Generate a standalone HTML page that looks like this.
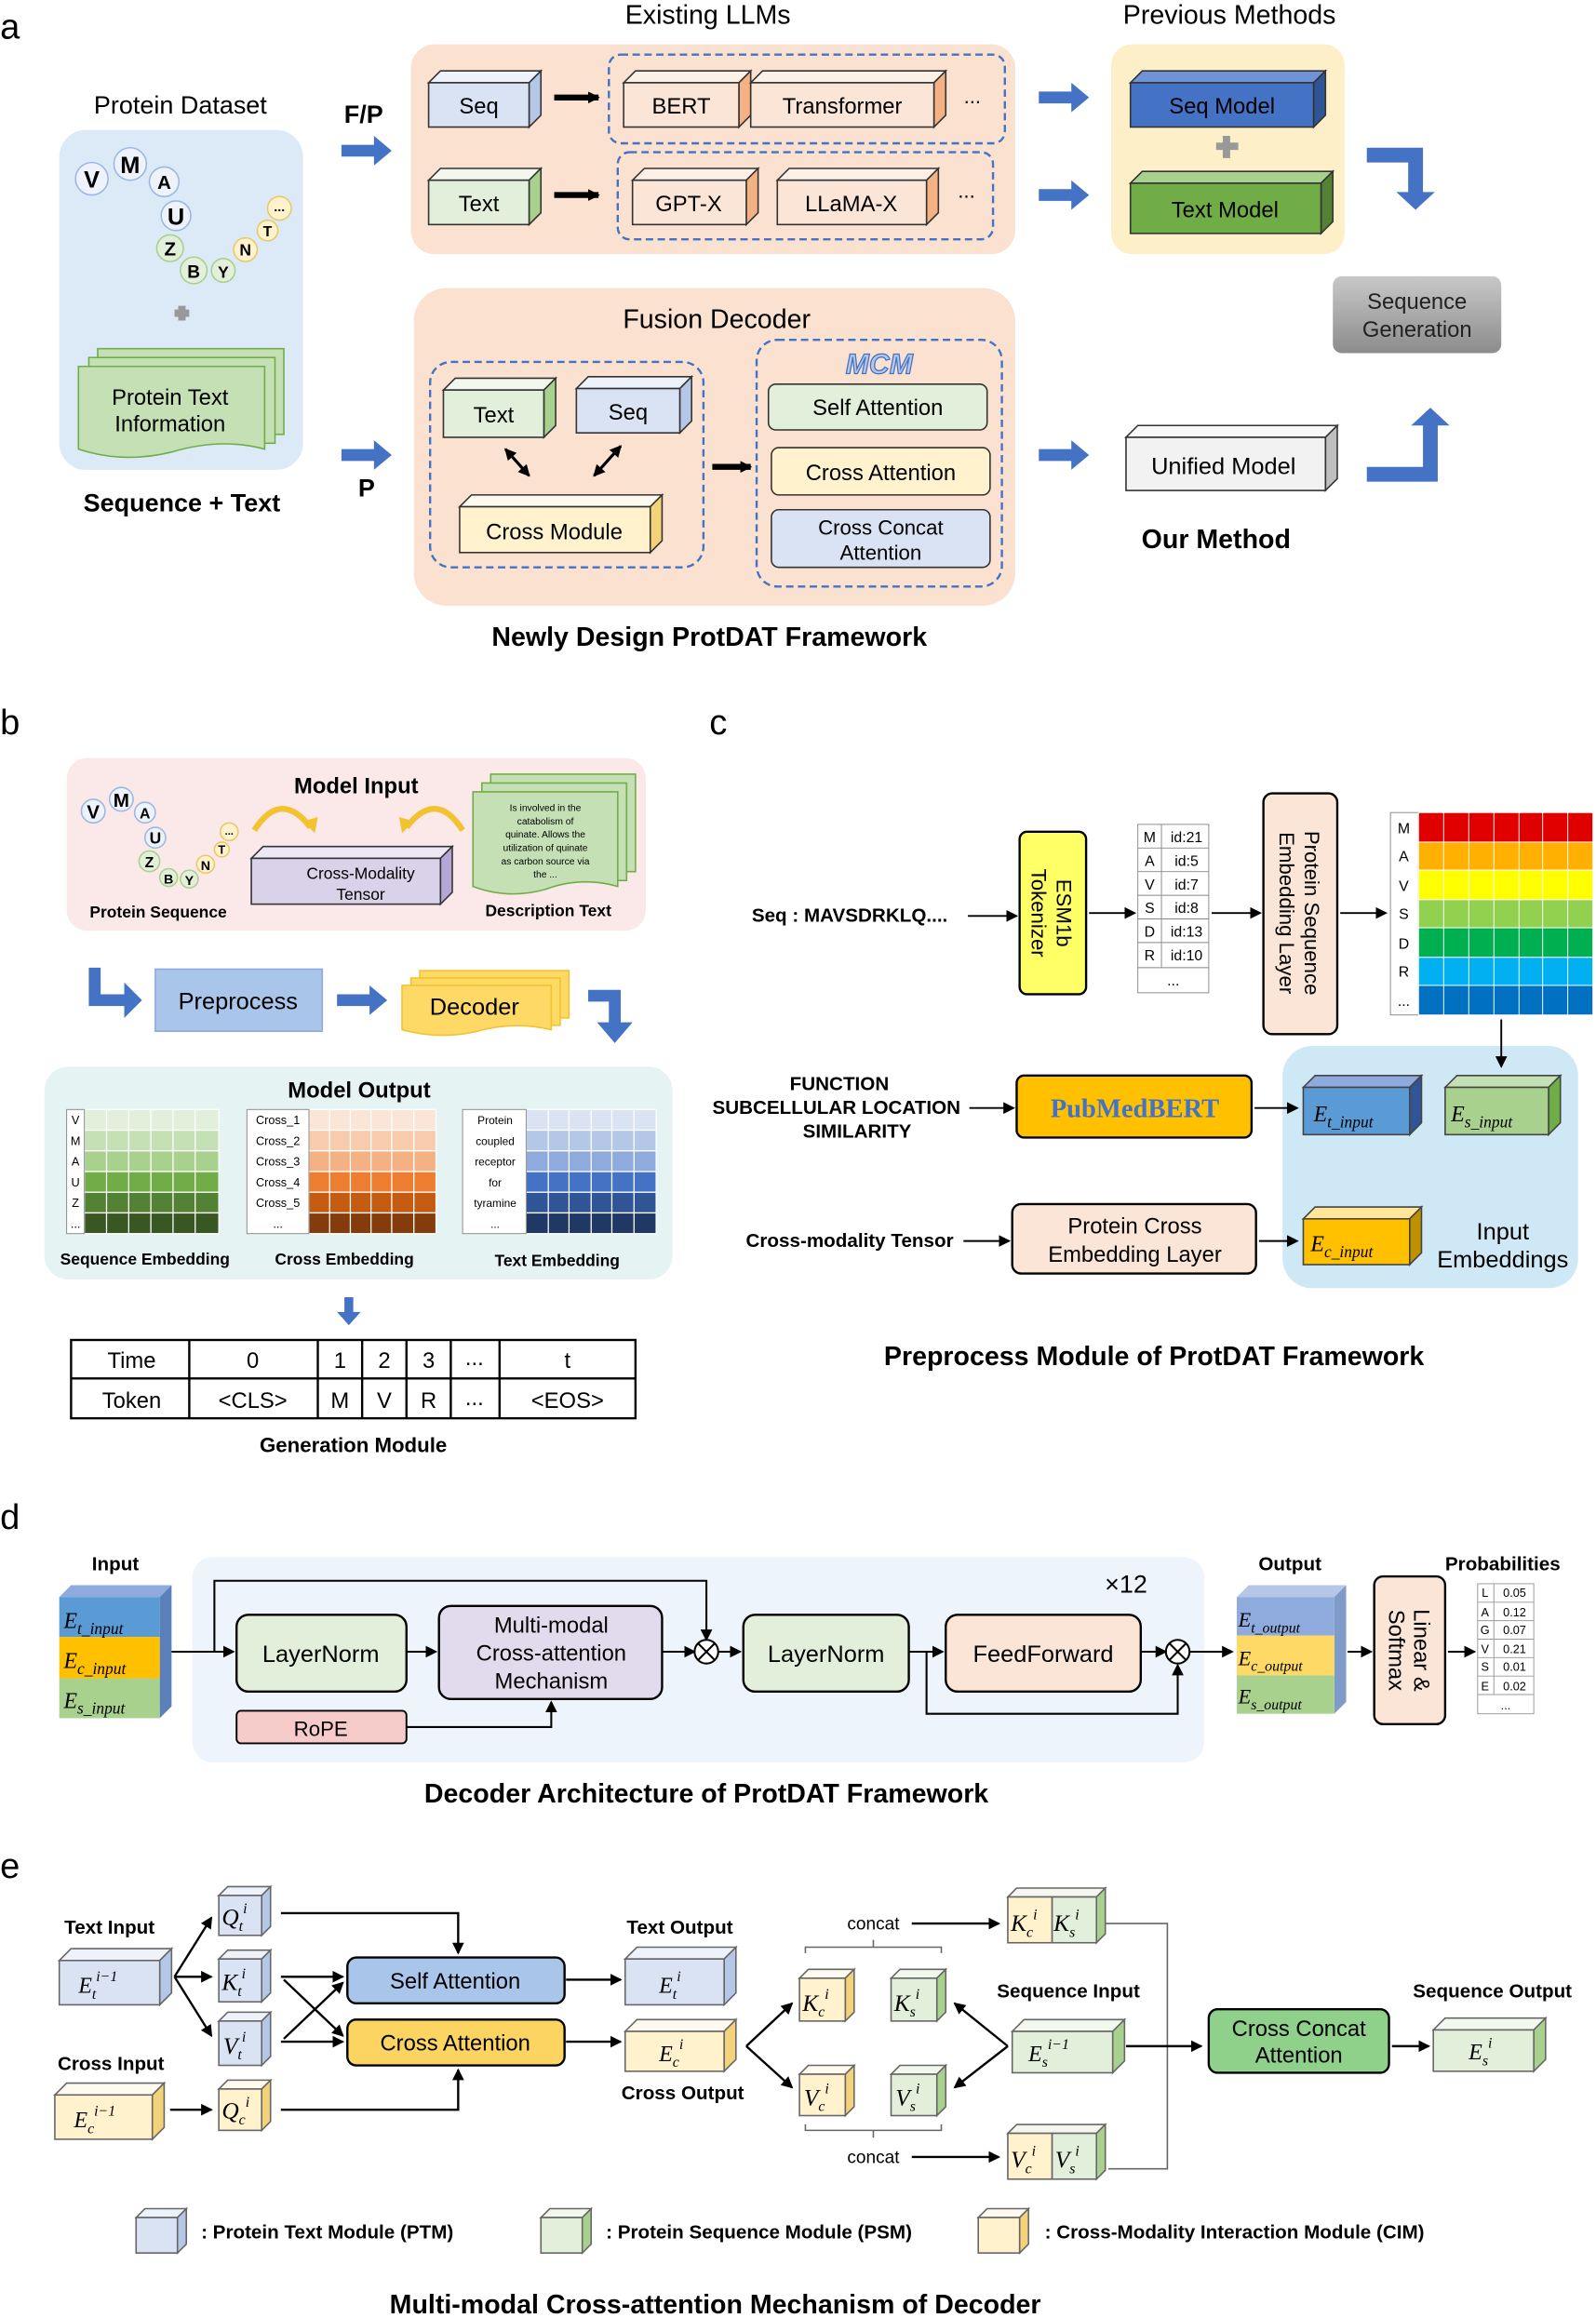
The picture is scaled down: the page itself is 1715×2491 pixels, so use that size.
<!DOCTYPE html>
<html><head><meta charset="utf-8">
<style>
html,body{margin:0;padding:0;background:#fff;}
svg{display:block;font-family:"Liberation Sans",sans-serif;}
.t{font-family:"Liberation Sans",sans-serif;}
.m{font-family:"Liberation Serif",serif;font-style:italic;}
</style></head><body>
<svg width="1715" height="2491" viewBox="0 0 1080 1569" xmlns="http://www.w3.org/2000/svg">
<defs>
<marker id="ab" markerWidth="8" markerHeight="8" refX="7" refY="4" orient="auto" markerUnits="userSpaceOnUse"><path d="M0,0 L8,4 L0,8 z" fill="#000"/></marker>
<marker id="ab2" markerWidth="8" markerHeight="8" refX="1" refY="4" orient="auto" markerUnits="userSpaceOnUse"><path d="M8,0 L0,4 L8,8 z" fill="#000"/></marker>
<linearGradient id="gg" x1="0" y1="0" x2="0" y2="1"><stop offset="0" stop-color="#c8c8c8"/><stop offset="1" stop-color="#8c8c8c"/></linearGradient>
</defs>

<!-- ============ A ============ -->
<text x="0" y="26" font-size="24">a</text>
<text x="479" y="16" font-size="18" text-anchor="middle">Existing LLMs</text>
<text x="832" y="16" font-size="18" text-anchor="middle">Previous Methods</text>

<text x="122" y="77" font-size="17" text-anchor="middle">Protein Dataset</text>
<rect x="40" y="88" width="165" height="230" rx="18" fill="#dce9f7"/>
<g font-size="16" text-anchor="middle" font-weight="bold">
<circle cx="62" cy="121" r="11" fill="#eef3fb" stroke="#9db8e0"/><text x="62" y="127">V</text>
<circle cx="88" cy="111" r="11" fill="#eef3fb" stroke="#9db8e0"/><text x="88" y="117">M</text>
<circle cx="111" cy="123" r="10" fill="#eef3fb" stroke="#9db8e0"/><text x="111" y="128" font-size="13">A</text>
<circle cx="119" cy="146" r="10" fill="#eef3fb" stroke="#9db8e0"/><text x="119" y="152">U</text>
<circle cx="115" cy="168" r="9" fill="#e2efda" stroke="#a9d18e"/><text x="115" y="173" font-size="13">Z</text>
<circle cx="131" cy="183" r="9" fill="#e2efda" stroke="#a9d18e"/><text x="131" y="188" font-size="12">B</text>
<circle cx="151" cy="183" r="8" fill="#e2efda" stroke="#a9d18e"/><text x="151" y="188" font-size="11">Y</text>
<circle cx="166" cy="169" r="8" fill="#fff2cc" stroke="#e8c96a"/><text x="166" y="173" font-size="11">N</text>
<circle cx="181" cy="156" r="7" fill="#fff2cc" stroke="#e8c96a"/><text x="181" y="160" font-size="10">T</text>
<circle cx="189" cy="141" r="8" fill="#fff2cc" stroke="#e8c96a"/><text x="189" y="143" font-size="9">...</text>
</g>
<path d="M118,212 h10 M123,207 v10" stroke="#999" stroke-width="5"/>
<rect x="66" y="236" width="126" height="58" fill="#c5e0b4" stroke="#70ad47"/>
<rect x="60" y="242" width="126" height="58" fill="#c5e0b4" stroke="#70ad47"/>
<path d="M53,248 h126 v56 q-30,-8 -63,2 q-33,8 -63,-2 z" fill="#c5e0b4" stroke="#70ad47"/>
<text x="115" y="274" font-size="15" text-anchor="middle">Protein Text</text>
<text x="115" y="292" font-size="15" text-anchor="middle">Information</text>
<text x="123" y="346" font-size="17" text-anchor="middle" font-weight="bold">Sequence + Text</text>

<text x="246" y="83" font-size="17" text-anchor="middle" font-weight="bold">F/P</text>
<path d="M231,98 h22 v-6 l12,10 l-12,10 v-6 h-22 z" fill="#4472c4"/>
<path d="M231,304 h22 v-6 l12,10 l-12,10 v-6 h-22 z" fill="#4472c4"/>
<text x="248" y="336" font-size="17" text-anchor="middle" font-weight="bold">P</text>

<rect x="278" y="30" width="409" height="142" rx="16" fill="#fbe1cf"/>
<!-- Seq -->
<polygon points="290,56 298,48 366,48 358,56" fill="#eef3fb" stroke="#333"/>
<polygon points="358,56 366,48 366,78 358,86" fill="#b4c7e7" stroke="#333"/>
<rect x="290" y="56" width="68" height="30" fill="#dae3f3" stroke="#333"/>
<text x="324" y="77" font-size="15" text-anchor="middle">Seq</text>
<line x1="375" y1="66" x2="405" y2="66" stroke="#000" stroke-width="4" marker-end="url(#ab)"/>
<rect x="412" y="37" width="268" height="60" rx="8" fill="none" stroke="#4472c4" stroke-dasharray="5,3" stroke-width="1.5"/>
<polygon points="422,56 430,48 508,48 500,56" fill="#fdf0e6" stroke="#333"/>
<polygon points="500,56 508,48 508,78 500,86" fill="#f4b183" stroke="#333"/>
<rect x="422" y="56" width="78" height="30" fill="#fbe5d6" stroke="#333"/>
<text x="461" y="77" font-size="15" text-anchor="middle">BERT</text>
<polygon points="508,56 516,48 640,48 632,56" fill="#fdf0e6" stroke="#333"/>
<polygon points="632,56 640,48 640,78 632,86" fill="#f4b183" stroke="#333"/>
<rect x="508" y="56" width="124" height="30" fill="#fbe5d6" stroke="#333"/>
<text x="570" y="77" font-size="15" text-anchor="middle">Transformer</text>
<text x="658" y="70" font-size="14" text-anchor="middle">...</text>
<!-- Text -->
<polygon points="290,122 298,114 366,114 358,122" fill="#f2f8ee" stroke="#333"/>
<polygon points="358,122 366,114 366,144 358,152" fill="#a9d18e" stroke="#333"/>
<rect x="290" y="122" width="68" height="30" fill="#e2efda" stroke="#333"/>
<text x="324" y="143" font-size="15" text-anchor="middle">Text</text>
<line x1="375" y1="132" x2="405" y2="132" stroke="#000" stroke-width="4" marker-end="url(#ab)"/>
<rect x="418" y="103" width="254" height="59" rx="8" fill="none" stroke="#4472c4" stroke-dasharray="5,3" stroke-width="1.5"/>
<polygon points="428,122 436,114 513,114 505,122" fill="#fdf0e6" stroke="#333"/>
<polygon points="505,122 513,114 513,144 505,152" fill="#f4b183" stroke="#333"/>
<rect x="428" y="122" width="77" height="30" fill="#fbe5d6" stroke="#333"/>
<text x="466" y="143" font-size="15" text-anchor="middle">GPT-X</text>
<polygon points="526,122 534,114 635,114 627,122" fill="#fdf0e6" stroke="#333"/>
<polygon points="627,122 635,114 635,144 627,152" fill="#f4b183" stroke="#333"/>
<rect x="526" y="122" width="101" height="30" fill="#fbe5d6" stroke="#333"/>
<text x="576" y="143" font-size="15" text-anchor="middle">LLaMA-X</text>
<text x="654" y="134" font-size="14" text-anchor="middle">...</text>

<path d="M703,62 h22 v-6 l12,10 l-12,10 v-6 h-22 z" fill="#4472c4"/>
<path d="M703,128 h22 v-6 l12,10 l-12,10 v-6 h-22 z" fill="#4472c4"/>

<rect x="752" y="30" width="158" height="142" rx="14" fill="#fdf0c8"/>
<polygon points="765,56 773,48 897,48 889,56" fill="#6f93d6" stroke="#333"/>
<polygon points="889,56 897,48 897,78 889,86" fill="#2f5597" stroke="#333"/>
<rect x="765" y="56" width="124" height="30" fill="#4472c4" stroke="#333"/>
<text x="827" y="77" font-size="15" text-anchor="middle">Seq Model</text>
<path d="M823,99 h15 M830,92 v15" stroke="#999" stroke-width="5"/>
<polygon points="765,124 773,116 902,116 894,124" fill="#a9d18e" stroke="#333"/>
<polygon points="894,124 902,116 902,150 894,158" fill="#548235" stroke="#333"/>
<rect x="765" y="124" width="129" height="34" fill="#70ad47" stroke="#333"/>
<text x="829" y="147" font-size="15" text-anchor="middle">Text Model</text>

<path d="M925,100 h38 v30 h8 l-13,12 l-13,-12 h8 v-20 h-28 z" fill="#4472c4"/>
<rect x="902" y="187" width="114" height="52" rx="6" fill="url(#gg)"/>
<text x="959" y="209" font-size="15" text-anchor="middle" fill="#222">Sequence</text>
<text x="959" y="228" font-size="15" text-anchor="middle" fill="#222">Generation</text>
<path d="M925,316 h38 v-28 h-8 l13,-12 l13,12 h-8 v38 h-48 z" fill="#4472c4"/>

<rect x="280" y="195" width="407" height="215" rx="22" fill="#fbe1cf"/>
<text x="485" y="222" font-size="18" text-anchor="middle">Fusion Decoder</text>
<rect x="291" y="245" width="185" height="139" rx="14" fill="none" stroke="#4472c4" stroke-dasharray="5,3" stroke-width="1.5"/>
<polygon points="300,264 308,256 376,256 368,264" fill="#f2f8ee" stroke="#333"/>
<polygon points="368,264 376,256 376,288 368,296" fill="#a9d18e" stroke="#333"/>
<rect x="300" y="264" width="68" height="32" fill="#e2efda" stroke="#333"/>
<text x="334" y="286" font-size="15" text-anchor="middle">Text</text>
<polygon points="390,263 398,255 468,255 460,263" fill="#eef3fb" stroke="#333"/>
<polygon points="460,263 468,255 468,285 460,293" fill="#b4c7e7" stroke="#333"/>
<rect x="390" y="263" width="70" height="30" fill="#dae3f3" stroke="#333"/>
<text x="425" y="284" font-size="15" text-anchor="middle">Seq</text>
<line x1="342" y1="304" x2="358" y2="322" stroke="#000" stroke-width="2" marker-end="url(#ab)" marker-start="url(#ab2)"/>
<line x1="420" y1="302" x2="402" y2="322" stroke="#000" stroke-width="2" marker-end="url(#ab)" marker-start="url(#ab2)"/>
<polygon points="311,343 319,335 448,335 440,343" fill="#fffaf0" stroke="#333"/>
<polygon points="440,343 448,335 448,366 440,374" fill="#f4d27a" stroke="#333"/>
<rect x="311" y="343" width="129" height="31" fill="#fff2cc" stroke="#333"/>
<text x="375" y="365" font-size="15" text-anchor="middle">Cross Module</text>
<line x1="482" y1="316" x2="508" y2="316" stroke="#000" stroke-width="4" marker-end="url(#ab)"/>
<rect x="512" y="230" width="166" height="167" rx="14" fill="none" stroke="#4472c4" stroke-dasharray="5,3" stroke-width="1.5"/>
<text x="595" y="253" font-size="19" text-anchor="middle" font-weight="bold" font-style="italic" fill="#b4c7e7" stroke="#4472c4" stroke-width="0.8">MCM</text>
<rect x="520" y="260" width="148" height="31" rx="5" fill="#e2efda" stroke="#333"/>
<text x="594" y="281" font-size="15" text-anchor="middle">Self Attention</text>
<rect x="522" y="303" width="148" height="32" rx="5" fill="#fff2cc" stroke="#333"/>
<text x="596" y="325" font-size="15" text-anchor="middle">Cross Attention</text>
<rect x="522" y="345" width="148" height="39" rx="5" fill="#dae3f3" stroke="#333"/>
<text x="596" y="362" font-size="14" text-anchor="middle">Cross Concat</text>
<text x="596" y="379" font-size="14" text-anchor="middle">Attention</text>

<path d="M703,304 h22 v-6 l12,10 l-12,10 v-6 h-22 z" fill="#4472c4"/>
<polygon points="762,296 770,288 905,288 897,296" fill="#f8f8f8" stroke="#333"/>
<polygon points="897,296 905,288 905,324 897,332" fill="#bfbfbf" stroke="#333"/>
<rect x="762" y="296" width="135" height="36" fill="#f2f2f2" stroke="#333"/>
<text x="828" y="321" font-size="16" text-anchor="middle">Unified Model</text>
<text x="823" y="371" font-size="18" text-anchor="middle" font-weight="bold">Our Method</text>
<text x="480" y="437" font-size="18" text-anchor="middle" font-weight="bold">Newly Design ProtDAT Framework</text>

<!-- ============ B ============ -->
<text x="0" y="497" font-size="24">b</text>
<rect x="45" y="513" width="392" height="117" rx="14" fill="#fbe9ea"/>
<text x="241" y="537" font-size="15" text-anchor="middle" font-weight="bold">Model Input</text>
<g font-size="13" text-anchor="middle" font-weight="bold">
<circle cx="63" cy="549" r="8" fill="#eef3fb" stroke="#9db8e0"/><text x="63" y="554">V</text>
<circle cx="82" cy="541" r="8" fill="#eef3fb" stroke="#9db8e0"/><text x="82" y="546">M</text>
<circle cx="98" cy="550" r="7" fill="#eef3fb" stroke="#9db8e0"/><text x="98" y="554" font-size="10">A</text>
<circle cx="105" cy="567" r="7" fill="#eef3fb" stroke="#9db8e0"/><text x="105" y="571" font-size="11">U</text>
<circle cx="101" cy="583" r="7" fill="#e2efda" stroke="#a9d18e"/><text x="101" y="587" font-size="10">Z</text>
<circle cx="114" cy="594" r="6" fill="#e2efda" stroke="#a9d18e"/><text x="114" y="598" font-size="9">B</text>
<circle cx="128" cy="595" r="6" fill="#e2efda" stroke="#a9d18e"/><text x="128" y="599" font-size="9">Y</text>
<circle cx="139" cy="585" r="6" fill="#fff2cc" stroke="#e8c96a"/><text x="139" y="589" font-size="9">N</text>
<circle cx="150" cy="575" r="5" fill="#fff2cc" stroke="#e8c96a"/><text x="150" y="578" font-size="8">T</text>
<circle cx="155" cy="563" r="6" fill="#fff2cc" stroke="#e8c96a"/><text x="155" y="565" font-size="7">...</text>
</g>
<path d="M172,562 q18,-28 38,-2" fill="none" stroke="#f2c230" stroke-width="4"/>
<path d="M205,556 l8,8 l2,-11 z" fill="#f2c230"/>
<path d="M313,562 q-18,-28 -38,-2" fill="none" stroke="#f2c230" stroke-width="4"/>
<path d="M280,556 l-8,8 l-2,-11 z" fill="#f2c230"/>
<polygon points="170,581 178,573 306,573 298,581" fill="#ece6f5" stroke="#333"/>
<polygon points="298,581 306,573 306,604 298,612" fill="#b4a7d6" stroke="#333"/>
<rect x="170" y="581" width="128" height="31" fill="#d9d2e9" stroke="#333"/>
<text x="244" y="595" font-size="11" text-anchor="middle">Cross-Modality</text>
<text x="244" y="609" font-size="11" text-anchor="middle">Tensor</text>
<rect x="332" y="524" width="98" height="66" fill="#c5e0b4" stroke="#70ad47"/>
<rect x="326" y="530" width="98" height="66" fill="#c5e0b4" stroke="#70ad47"/>
<path d="M320,536 h98 v64 q-25,-7 -49,2 q-25,7 -49,-2 z" fill="#c5e0b4" stroke="#70ad47"/>
<g font-size="6.5" text-anchor="middle"><text x="369" y="549">Is involved in the</text><text x="369" y="558">catabolism of</text><text x="369" y="567">quinate. Allows the</text><text x="369" y="576">utilization of quinate</text><text x="369" y="585">as carbon source via</text><text x="369" y="594">the ...</text></g>
<text x="107" y="621" font-size="11" text-anchor="middle" font-weight="bold">Protein Sequence</text>
<text x="371" y="620" font-size="11" text-anchor="middle" font-weight="bold">Description Text</text>

<path d="M60,655 h8 v18 h16 v-8 l12,12 l-12,12 v-8 h-24 z" fill="#4472c4"/>
<rect x="105" y="656" width="113" height="42" fill="#a9c6ea" stroke="#8faadc"/>
<text x="161" y="683" font-size="16" text-anchor="middle">Preprocess</text>
<path d="M228,673 h22 v-6 l12,10 l-12,10 v-6 h-22 z" fill="#4472c4"/>
<rect x="284" y="657" width="101" height="32" fill="#ffd966" stroke="#f2c230"/>
<rect x="278" y="662" width="101" height="32" fill="#ffd966" stroke="#f2c230"/>
<path d="M272,667 h101 v30 q-25,-6 -50,1 q-25,6 -51,-1 z" fill="#ffd966" stroke="#f2c230"/>
<text x="321" y="687" font-size="16" text-anchor="middle">Decoder</text>
<path d="M398,670 h22 v22 h8 l-12,14 l-12,-14 h8 v-14 h-14 z" fill="#4472c4"/>

<rect x="30" y="722" width="425" height="144" rx="16" fill="#e6f3f3"/>
<text x="243" y="743" font-size="15" text-anchor="middle" font-weight="bold">Model Output</text>
<!-- seq grid -->
<g stroke="#fff" stroke-width="0.8">
<rect x="57" y="751" width="91" height="14" fill="#e2efda"/>
<rect x="57" y="765" width="91" height="14" fill="#c5e0b4"/>
<rect x="57" y="779" width="91" height="14" fill="#a9d18e"/>
<rect x="57" y="793" width="91" height="14" fill="#70ad47"/>
<rect x="57" y="807" width="91" height="14" fill="#548235"/>
<rect x="57" y="821" width="91" height="14" fill="#385723"/>
<path d="M72,751 v84 M87,751 v84 M102,751 v84 M117,751 v84 M132,751 v84"/>
</g>
<rect x="45" y="751" width="12" height="84" fill="#fff" stroke="#888" stroke-width="0.6"/>
<g font-size="8" text-anchor="middle"><text x="51" y="761">V</text><text x="51" y="775">M</text><text x="51" y="789">A</text><text x="51" y="803">U</text><text x="51" y="817">Z</text><text x="51" y="831">...</text></g>
<!-- cross grid -->
<g stroke="#fff" stroke-width="0.8">
<rect x="209" y="751" width="86" height="14" fill="#fbe5d6"/>
<rect x="209" y="765" width="86" height="14" fill="#f8cbad"/>
<rect x="209" y="779" width="86" height="14" fill="#f4b183"/>
<rect x="209" y="793" width="86" height="14" fill="#ed7d31"/>
<rect x="209" y="807" width="86" height="14" fill="#c55a11"/>
<rect x="209" y="821" width="86" height="14" fill="#843c0c"/>
<path d="M223,751 v84 M237,751 v84 M251,751 v84 M265,751 v84 M280,751 v84"/>
</g>
<rect x="167" y="751" width="42" height="84" fill="#fff" stroke="#888" stroke-width="0.6"/>
<g font-size="8" text-anchor="middle"><text x="188" y="761">Cross_1</text><text x="188" y="775">Cross_2</text><text x="188" y="789">Cross_3</text><text x="188" y="803">Cross_4</text><text x="188" y="817">Cross_5</text><text x="188" y="831">...</text></g>
<!-- text grid -->
<g stroke="#fff" stroke-width="0.8">
<rect x="356" y="751" width="88" height="14" fill="#dae3f3"/>
<rect x="356" y="765" width="88" height="14" fill="#b4c7e7"/>
<rect x="356" y="779" width="88" height="14" fill="#8faadc"/>
<rect x="356" y="793" width="88" height="14" fill="#4472c4"/>
<rect x="356" y="807" width="88" height="14" fill="#2f5597"/>
<rect x="356" y="821" width="88" height="14" fill="#1f3864"/>
<path d="M371,751 v84 M385,751 v84 M400,751 v84 M414,751 v84 M429,751 v84"/>
</g>
<rect x="313" y="751" width="43" height="84" fill="#fff" stroke="#888" stroke-width="0.6"/>
<g font-size="7.5" text-anchor="middle"><text x="335" y="761">Protein</text><text x="335" y="775">coupled</text><text x="335" y="789">receptor</text><text x="335" y="803">for</text><text x="335" y="817">tyramine</text><text x="335" y="831">...</text></g>
<text x="98" y="856" font-size="11" text-anchor="middle" font-weight="bold">Sequence Embedding</text>
<text x="233" y="856" font-size="11" text-anchor="middle" font-weight="bold">Cross Embedding</text>
<text x="377" y="857" font-size="11" text-anchor="middle" font-weight="bold">Text Embedding</text>
<path d="M233,878 h6 v10 h5 l-8,9 l-8,-9 h5 z" fill="#4472c4"/>

<g stroke="#000" stroke-width="1.5" fill="none">
<rect x="48" y="907" width="382" height="53"/>
<line x1="48" y1="933" x2="430" y2="933"/>
<path d="M128,907 v53 M215,907 v53 M245,907 v53 M275,907 v53 M305,907 v53 M338,907 v53"/>
</g>
<g font-size="15" text-anchor="middle">
<text x="89" y="926">Time</text><text x="171" y="926">0</text><text x="230" y="926">1</text><text x="260" y="926">2</text><text x="290" y="926">3</text><text x="321" y="924">...</text><text x="384" y="926">t</text>
<text x="89" y="953">Token</text><text x="171" y="953">&lt;CLS&gt;</text><text x="230" y="953">M</text><text x="260" y="953">V</text><text x="290" y="953">R</text><text x="321" y="951">...</text><text x="384" y="953">&lt;EOS&gt;</text>
</g>
<text x="239" y="983" font-size="14" text-anchor="middle" font-weight="bold">Generation Module</text>

<!-- ============ C ============ -->
<text x="480" y="497" font-size="24">c</text>
<text x="575" y="624" font-size="13" text-anchor="middle" font-weight="bold">Seq : MAVSDRKLQ....</text>
<line x1="655" y1="620" x2="688" y2="620" stroke="#000" stroke-width="1.2" marker-end="url(#ab)"/>
<rect x="690" y="563" width="45" height="110" rx="5" fill="#ffff66" stroke="#000" stroke-width="1.5"/>
<text transform="translate(712,618) rotate(90)" font-size="14" text-anchor="middle"><tspan x="0" dy="-3">ESM1b</tspan><tspan x="0" dy="17">Tokenizer</tspan></text>
<line x1="737" y1="618" x2="768" y2="618" stroke="#000" stroke-width="1.2" marker-end="url(#ab)"/>
<g stroke="#888" stroke-width="0.6" fill="#fff">
<rect x="770" y="558" width="48" height="114"/>
<path d="M770,574 h48 M770,590 h48 M770,606 h48 M770,622 h48 M770,638 h48 M770,655 h48 M786,558 v97"/>
</g>
<g font-size="10" text-anchor="middle">
<text x="778" y="570">M</text><text x="803" y="570">id:21</text>
<text x="778" y="586">A</text><text x="803" y="586">id:5</text>
<text x="778" y="602">V</text><text x="803" y="602">id:7</text>
<text x="778" y="618">S</text><text x="803" y="618">id:8</text>
<text x="778" y="634">D</text><text x="803" y="634">id:13</text>
<text x="778" y="650">R</text><text x="803" y="650">id:10</text>
<text x="794" y="667">...</text>
</g>
<line x1="820" y1="618" x2="853" y2="618" stroke="#000" stroke-width="1.2" marker-end="url(#ab)"/>
<rect x="855" y="537" width="50" height="163" rx="6" fill="#fbe5d6" stroke="#000" stroke-width="1.5"/>
<text transform="translate(880,618) rotate(90)" font-size="14" text-anchor="middle"><tspan x="0" dy="-3">Protein Sequence</tspan><tspan x="0" dy="17">Embedding Layer</tspan></text>
<line x1="907" y1="618" x2="938" y2="618" stroke="#000" stroke-width="1.2" marker-end="url(#ab)"/>
<rect x="941" y="550" width="19" height="137" fill="#fff" stroke="#888" stroke-width="0.6"/>
<g stroke="#fff" stroke-width="0.6">
<rect x="960" y="550" width="118" height="20" fill="#e00000"/>
<rect x="960" y="570" width="118" height="19" fill="#ffb000"/>
<rect x="960" y="589" width="118" height="20" fill="#ffff00"/>
<rect x="960" y="609" width="118" height="19" fill="#92d050"/>
<rect x="960" y="628" width="118" height="20" fill="#00b050"/>
<rect x="960" y="648" width="118" height="19" fill="#00b0f0"/>
<rect x="960" y="667" width="118" height="20" fill="#0070c0"/>
<path d="M977,550 v137 M994,550 v137 M1011,550 v137 M1028,550 v137 M1044,550 v137 M1061,550 v137"/>
</g>
<g font-size="10" text-anchor="middle"><text x="950" y="564">M</text><text x="950" y="583">A</text><text x="950" y="603">V</text><text x="950" y="622">S</text><text x="950" y="642">D</text><text x="950" y="661">R</text><text x="950" y="681">...</text></g>

<rect x="868" y="708" width="200" height="164" rx="20" fill="#cfe8f5"/>
<line x1="1016" y1="690" x2="1016" y2="722" stroke="#000" stroke-width="1.2" marker-end="url(#ab)"/>
<polygon points="882,736 890,728 962,728 954,736" fill="#8faadc" stroke="#444"/>
<polygon points="954,736 962,728 962,760 954,768" fill="#2f5597" stroke="#444"/>
<rect x="882" y="736" width="72" height="32" fill="#5b9bd5" stroke="#444"/>
<text x="889" y="759" font-size="15" class="m">E<tspan font-size="11" dy="4">t_input</tspan></text>
<polygon points="978,736 986,728 1056,728 1048,736" fill="#c5e0b4" stroke="#444"/>
<polygon points="1048,736 1056,728 1056,760 1048,768" fill="#70ad47" stroke="#444"/>
<rect x="978" y="736" width="70" height="32" fill="#a9d18e" stroke="#444"/>
<text x="982" y="759" font-size="15" class="m">E<tspan font-size="11" dy="4">s_input</tspan></text>
<polygon points="882,825 890,817 962,817 954,825" fill="#ffe699" stroke="#444"/>
<polygon points="954,825 962,817 962,848 954,856" fill="#bf9000" stroke="#444"/>
<rect x="882" y="825" width="72" height="31" fill="#ffc000" stroke="#444"/>
<text x="887" y="847" font-size="15" class="m">E<tspan font-size="11" dy="4">c_input</tspan></text>
<text x="1017" y="839" font-size="16" text-anchor="middle">Input</text>
<text x="1017" y="858" font-size="16" text-anchor="middle">Embeddings</text>

<g font-size="13" text-anchor="middle" font-weight="bold">
<text x="568" y="738">FUNCTION</text>
<text x="566" y="754">SUBCELLULAR LOCATION</text>
<text x="580" y="770">SIMILARITY</text>
</g>
<line x1="656" y1="750" x2="686" y2="750" stroke="#000" stroke-width="1.2" marker-end="url(#ab)"/>
<rect x="688" y="728" width="159" height="42" rx="5" fill="#ffc000" stroke="#000" stroke-width="1.5"/>
<text x="768" y="756" font-size="18" text-anchor="middle" font-weight="bold" fill="#4472c4" font-family="Liberation Serif,serif">PubMedBERT</text>
<line x1="849" y1="750" x2="878" y2="750" stroke="#000" stroke-width="1.2" marker-end="url(#ab)"/>
<text x="575" y="844" font-size="13" text-anchor="middle" font-weight="bold">Cross-modality Tensor</text>
<line x1="652" y1="840" x2="683" y2="840" stroke="#000" stroke-width="1.2" marker-end="url(#ab)"/>
<rect x="685" y="815" width="165" height="47" rx="6" fill="#fbe5d6" stroke="#000" stroke-width="1.5"/>
<text x="768" y="835" font-size="15" text-anchor="middle">Protein Cross</text>
<text x="768" y="854" font-size="15" text-anchor="middle">Embedding Layer</text>
<line x1="852" y1="840" x2="878" y2="840" stroke="#000" stroke-width="1.2" marker-end="url(#ab)"/>
<text x="781" y="924" font-size="18" text-anchor="middle" font-weight="bold">Preprocess Module of ProtDAT Framework</text>

<!-- ============ D ============ -->
<text x="0" y="1035" font-size="24">d</text>
<text x="78" y="1063" font-size="13" text-anchor="middle" font-weight="bold">Input</text>
<polygon points="40,1081 48,1073 116,1073 108,1081" fill="#8faadc"/>
<polygon points="108,1081 116,1073 116,1155 108,1163" fill="#5a7fb9"/>
<rect x="40" y="1081" width="68" height="27" fill="#5b9bd5"/>
<rect x="40" y="1108" width="68" height="28" fill="#ffc000"/>
<rect x="40" y="1136" width="68" height="27" fill="#a9d18e"/>
<text x="43" y="1102" font-size="15" class="m">E<tspan font-size="11" dy="4">t_input</tspan></text>
<text x="43" y="1129" font-size="15" class="m">E<tspan font-size="11" dy="4">c_input</tspan></text>
<text x="43" y="1156" font-size="15" class="m">E<tspan font-size="11" dy="4">s_input</tspan></text>

<rect x="130" y="1054" width="685" height="139" rx="14" fill="#eef4fb"/>
<g stroke="#000" stroke-width="1.3" fill="none">
<line x1="116" y1="1118" x2="158" y2="1118" marker-end="url(#ab)"/>
<path d="M145,1118 V1070 H478 V1110" marker-end="url(#ab)"/>
<line x1="275" y1="1118" x2="295" y2="1118" marker-end="url(#ab)"/>
<line x1="448" y1="1118" x2="470" y2="1118" marker-end="url(#ab)"/>
<line x1="486" y1="1118" x2="501" y2="1118" marker-end="url(#ab)"/>
<line x1="615" y1="1118" x2="638" y2="1118" marker-end="url(#ab)"/>
<path d="M627,1118 V1160 H797 V1127" marker-end="url(#ab)"/>
<line x1="772" y1="1118" x2="789" y2="1118" marker-end="url(#ab)"/>
<line x1="805" y1="1118" x2="834" y2="1118" marker-end="url(#ab)"/>
<path d="M275,1169 H373 V1152" marker-end="url(#ab)"/>
</g>
<rect x="160" y="1093" width="115" height="52" rx="8" fill="#e2efda" stroke="#000" stroke-width="1.5"/>
<text x="217" y="1125" font-size="16" text-anchor="middle">LayerNorm</text>
<rect x="297" y="1087" width="151" height="63" rx="8" fill="#e2dbee" stroke="#000" stroke-width="1.5"/>
<text x="373" y="1105" font-size="15" text-anchor="middle">Multi-modal</text>
<text x="373" y="1124" font-size="15" text-anchor="middle">Cross-attention</text>
<text x="373" y="1143" font-size="15" text-anchor="middle">Mechanism</text>
<circle cx="478" cy="1118" r="8" fill="#fff" stroke="#000" stroke-width="1.3"/>
<path d="M472.5,1112.5 L483.5,1123.5 M483.5,1112.5 L472.5,1123.5" stroke="#000" stroke-width="1.3"/>
<rect x="503" y="1093" width="112" height="52" rx="8" fill="#e2efda" stroke="#000" stroke-width="1.5"/>
<text x="559" y="1125" font-size="16" text-anchor="middle">LayerNorm</text>
<rect x="640" y="1093" width="132" height="52" rx="8" fill="#fbe5d6" stroke="#000" stroke-width="1.5"/>
<text x="706" y="1125" font-size="16" text-anchor="middle">FeedForward</text>
<circle cx="797" cy="1118" r="8" fill="#fff" stroke="#000" stroke-width="1.3"/>
<path d="M791.5,1112.5 L802.5,1123.5 M802.5,1112.5 L791.5,1123.5" stroke="#000" stroke-width="1.3"/>
<rect x="160" y="1158" width="115" height="22" rx="3" fill="#f8cbcb" stroke="#000" stroke-width="1.2"/>
<text x="217" y="1175" font-size="14" text-anchor="middle">RoPE</text>
<text x="762" y="1078" font-size="17" text-anchor="middle">×12</text>

<text x="873" y="1063" font-size="13" text-anchor="middle" font-weight="bold">Output</text>
<polygon points="837,1081 845,1073 911,1073 903,1081" fill="#b4c7e7"/>
<polygon points="903,1081 911,1073 911,1152 903,1160" fill="#7f9cc8"/>
<rect x="837" y="1081" width="66" height="26" fill="#8faadc"/>
<rect x="837" y="1107" width="66" height="27" fill="#ffd966"/>
<rect x="837" y="1134" width="66" height="26" fill="#a9d18e"/>
<text x="838" y="1101" font-size="14" class="m">E<tspan font-size="10" dy="4">t_output</tspan></text>
<text x="838" y="1127" font-size="14" class="m">E<tspan font-size="10" dy="4">c_output</tspan></text>
<text x="838" y="1153" font-size="14" class="m">E<tspan font-size="10" dy="4">s_output</tspan></text>
<line x1="912" y1="1118" x2="928" y2="1118" stroke="#000" stroke-width="1.3" marker-end="url(#ab)"/>
<rect x="930" y="1067" width="48" height="100" rx="6" fill="#fbe5d6" stroke="#000" stroke-width="1.5"/>
<text transform="translate(954,1117) rotate(90)" font-size="15" text-anchor="middle"><tspan x="0" dy="-3">Linear &amp;</tspan><tspan x="0" dy="17">Softmax</tspan></text>
<line x1="980" y1="1118" x2="998" y2="1118" stroke="#000" stroke-width="1.3" marker-end="url(#ab)"/>
<text x="1017" y="1063" font-size="13" text-anchor="middle" font-weight="bold">Probabilities</text>
<g stroke="#999" stroke-width="0.6" fill="#fff">
<rect x="1000" y="1072" width="38" height="88"/>
<path d="M1000,1084.5 h38 M1000,1097 h38 M1000,1109.5 h38 M1000,1122 h38 M1000,1134.5 h38 M1000,1147 h38 M1011,1072 v75"/>
</g>
<g font-size="8" text-anchor="middle">
<text x="1005" y="1081">L</text><text x="1025" y="1081">0.05</text>
<text x="1005" y="1094">A</text><text x="1025" y="1094">0.12</text>
<text x="1005" y="1106">G</text><text x="1025" y="1106">0.07</text>
<text x="1005" y="1119">V</text><text x="1025" y="1119">0.21</text>
<text x="1005" y="1131">S</text><text x="1025" y="1131">0.01</text>
<text x="1005" y="1144">E</text><text x="1025" y="1144">0.02</text>
<text x="1019" y="1157">...</text>
</g>
<text x="478" y="1220" font-size="18" text-anchor="middle" font-weight="bold">Decoder Architecture of ProtDAT Framework</text>

<!-- ============ E ============ -->
<text x="0" y="1271" font-size="24">e</text>
<text x="74" y="1309" font-size="13" text-anchor="middle" font-weight="bold">Text Input</text>
<polygon points="40,1327 48,1319 116,1319 108,1327" fill="#eef3fb" stroke="#666"/>
<polygon points="108,1327 116,1319 116,1349 108,1357" fill="#b4c7e7" stroke="#666"/>
<rect x="40" y="1327" width="68" height="30" fill="#dae3f3" stroke="#666"/>
<text x="53" y="1349" font-size="15" class="m">E<tspan font-size="10" dy="4">t</tspan><tspan font-size="10" dy="-12">i−1</tspan></text>
<text x="75" y="1401" font-size="13" text-anchor="middle" font-weight="bold">Cross Input</text>
<polygon points="37,1418 45,1410 111,1410 103,1418" fill="#fffaf0" stroke="#666"/>
<polygon points="103,1418 111,1410 111,1440 103,1448" fill="#f4d27a" stroke="#666"/>
<rect x="37" y="1418" width="66" height="30" fill="#fff2cc" stroke="#666"/>
<text x="50" y="1440" font-size="15" class="m">E<tspan font-size="10" dy="4">c</tspan><tspan font-size="10" dy="-12">i−1</tspan></text>

<!-- small cubes -->
<g stroke="#666">
<polygon points="148,1283 154,1277 183,1277 177,1283" fill="#eef3fb"/><polygon points="177,1283 183,1277 183,1304 177,1310" fill="#b4c7e7"/><rect x="148" y="1283" width="29" height="27" fill="#dae3f3"/>
<polygon points="148,1326 154,1320 183,1320 177,1326" fill="#eef3fb"/><polygon points="177,1326 183,1320 183,1349 177,1355" fill="#b4c7e7"/><rect x="148" y="1326" width="29" height="29" fill="#dae3f3"/>
<polygon points="148,1368 154,1362 183,1362 177,1368" fill="#eef3fb"/><polygon points="177,1368 183,1362 183,1392 177,1398" fill="#b4c7e7"/><rect x="148" y="1368" width="29" height="30" fill="#dae3f3"/>
<polygon points="148,1414 154,1408 183,1408 177,1414" fill="#fffaf0"/><polygon points="177,1414 183,1408 183,1436 177,1442" fill="#f4d27a"/><rect x="148" y="1414" width="29" height="28" fill="#fff2cc"/>
</g>
<g font-size="16" class="m">
<text x="150" y="1303">Q<tspan font-size="10" dy="4">t</tspan><tspan font-size="10" dy="-12">i</tspan></text>
<text x="150" y="1347">K<tspan font-size="10" dy="4">t</tspan><tspan font-size="10" dy="-12">i</tspan></text>
<text x="151" y="1390">V<tspan font-size="10" dy="4">t</tspan><tspan font-size="10" dy="-12">i</tspan></text>
<text x="150" y="1434">Q<tspan font-size="10" dy="4">c</tspan><tspan font-size="10" dy="-12">i</tspan></text>
</g>
<g stroke="#000" stroke-width="1.5" fill="none">
<line x1="118" y1="1338" x2="143" y2="1298" marker-end="url(#ab)"/>
<line x1="118" y1="1338" x2="143" y2="1338" marker-end="url(#ab)"/>
<line x1="118" y1="1338" x2="143" y2="1378" marker-end="url(#ab)"/>
<line x1="115" y1="1428" x2="143" y2="1428" marker-end="url(#ab)"/>
<path d="M190,1295 H310 V1322" marker-end="url(#ab)"/>
<path d="M190,1428 H310 V1401" marker-end="url(#ab)"/>
<line x1="190" y1="1338" x2="232" y2="1338" marker-end="url(#ab)"/>
<line x1="190" y1="1382" x2="232" y2="1382" marker-end="url(#ab)"/>
<line x1="192" y1="1340" x2="232" y2="1378" marker-end="url(#ab)"/>
<line x1="192" y1="1380" x2="232" y2="1342" marker-end="url(#ab)"/>
<line x1="383" y1="1340" x2="420" y2="1340" marker-end="url(#ab)"/>
<line x1="383" y1="1382" x2="420" y2="1382" marker-end="url(#ab)"/>
</g>
<rect x="235" y="1325" width="147" height="31" rx="6" fill="#a9c6ea" stroke="#000" stroke-width="1.5"/>
<text x="308" y="1346" font-size="15" text-anchor="middle">Self Attention</text>
<rect x="235" y="1367" width="147" height="31" rx="6" fill="#fcd462" stroke="#000" stroke-width="1.5"/>
<text x="308" y="1388" font-size="15" text-anchor="middle">Cross Attention</text>

<text x="460" y="1309" font-size="13" text-anchor="middle" font-weight="bold">Text Output</text>
<polygon points="423,1326 431,1318 498,1318 490,1326" fill="#eef3fb" stroke="#666"/>
<polygon points="490,1326 498,1318 498,1349 490,1357" fill="#b4c7e7" stroke="#666"/>
<rect x="423" y="1326" width="67" height="31" fill="#dae3f3" stroke="#666"/>
<text x="446" y="1349" font-size="15" class="m">E<tspan font-size="10" dy="4">t</tspan><tspan font-size="10" dy="-12">i</tspan></text>
<polygon points="423,1375 431,1367 498,1367 490,1375" fill="#fffaf0" stroke="#666"/>
<polygon points="490,1375 498,1367 498,1394 490,1402" fill="#f4d27a" stroke="#666"/>
<rect x="423" y="1375" width="67" height="27" fill="#fff2cc" stroke="#666"/>
<text x="446" y="1395" font-size="15" class="m">E<tspan font-size="10" dy="4">c</tspan><tspan font-size="10" dy="-12">i</tspan></text>
<text x="462" y="1421" font-size="13" text-anchor="middle" font-weight="bold">Cross Output</text>

<g stroke="#666">
<polygon points="541,1339 547,1333 578,1333 572,1339" fill="#fffaf0"/><polygon points="572,1339 578,1333 578,1362 572,1368" fill="#f4d27a"/><rect x="541" y="1339" width="31" height="29" fill="#fff2cc"/>
<polygon points="541,1404 547,1398 578,1398 572,1404" fill="#fffaf0"/><polygon points="572,1404 578,1398 578,1426 572,1432" fill="#f4d27a"/><rect x="541" y="1404" width="31" height="28" fill="#fff2cc"/>
<polygon points="603,1339 609,1333 640,1333 634,1339" fill="#f2f8ee"/><polygon points="634,1339 640,1333 640,1362 634,1368" fill="#a9d18e"/><rect x="603" y="1339" width="31" height="29" fill="#e2efda"/>
<polygon points="603,1404 609,1398 640,1398 634,1404" fill="#f2f8ee"/><polygon points="634,1404 640,1398 640,1426 634,1432" fill="#a9d18e"/><rect x="603" y="1404" width="31" height="28" fill="#e2efda"/>
</g>
<g font-size="16" class="m">
<text x="543" y="1361">K<tspan font-size="10" dy="4">c</tspan><tspan font-size="10" dy="-12">i</tspan></text>
<text x="544" y="1425">V<tspan font-size="10" dy="4">c</tspan><tspan font-size="10" dy="-12">i</tspan></text>
<text x="605" y="1361">K<tspan font-size="10" dy="4">s</tspan><tspan font-size="10" dy="-12">i</tspan></text>
<text x="606" y="1425">V<tspan font-size="10" dy="4">s</tspan><tspan font-size="10" dy="-12">i</tspan></text>
</g>
<g stroke="#000" stroke-width="1.5" fill="none">
<line x1="505" y1="1385" x2="536" y2="1356" marker-end="url(#ab)"/>
<line x1="505" y1="1385" x2="536" y2="1413" marker-end="url(#ab)"/>
<line x1="682" y1="1385" x2="646" y2="1356" marker-end="url(#ab)"/>
<line x1="682" y1="1385" x2="646" y2="1413" marker-end="url(#ab)"/>
</g>
<g stroke="#666" stroke-width="1" fill="none">
<path d="M545,1322 v-4 h92 v4 M591,1318 v-5"/>
<path d="M545,1438 v4 h92 v-4 M591,1442 v5"/>
<path d="M748,1302 H790 V1468 H750"/>
<line x1="762" y1="1385" x2="813" y2="1385" stroke="#000" stroke-width="1.5" marker-end="url(#ab)"/>
</g>
<text x="591" y="1306" font-size="12" text-anchor="middle">concat</text>
<line x1="617" y1="1302" x2="676" y2="1302" stroke="#000" stroke-width="1.5" marker-end="url(#ab)"/>
<text x="591" y="1464" font-size="12" text-anchor="middle">concat</text>
<line x1="617" y1="1460" x2="676" y2="1460" stroke="#000" stroke-width="1.5" marker-end="url(#ab)"/>
<g stroke="#666">
<polygon points="682,1284 688,1278 748,1278 742,1284" fill="#f6f6f0"/><polygon points="742,1284 748,1278 748,1309 742,1315" fill="#a9d18e"/>
<rect x="682" y="1284" width="30" height="31" fill="#fff2cc"/><rect x="712" y="1284" width="30" height="31" fill="#e2efda"/>
<polygon points="682,1444 688,1438 748,1438 742,1444" fill="#f6f6f0"/><polygon points="742,1444 748,1438 748,1469 742,1475" fill="#a9d18e"/>
<rect x="682" y="1444" width="30" height="31" fill="#fff2cc"/><rect x="712" y="1444" width="30" height="31" fill="#e2efda"/>
</g>
<g font-size="16" class="m">
<text x="684" y="1307">K<tspan font-size="10" dy="4">c</tspan><tspan font-size="10" dy="-12">i</tspan></text>
<text x="713" y="1307">K<tspan font-size="10" dy="4">s</tspan><tspan font-size="10" dy="-12">i</tspan></text>
<text x="684" y="1467">V<tspan font-size="10" dy="4">c</tspan><tspan font-size="10" dy="-12">i</tspan></text>
<text x="714" y="1467">V<tspan font-size="10" dy="4">s</tspan><tspan font-size="10" dy="-12">i</tspan></text>
</g>
<text x="723" y="1352" font-size="13" text-anchor="middle" font-weight="bold">Sequence Input</text>
<polygon points="685,1375 693,1367 761,1367 753,1375" fill="#f2f8ee" stroke="#666"/>
<polygon points="753,1375 761,1367 761,1395 753,1403" fill="#a9d18e" stroke="#666"/>
<rect x="685" y="1375" width="68" height="28" fill="#e2efda" stroke="#666"/>
<text x="696" y="1395" font-size="15" class="m">E<tspan font-size="10" dy="4">s</tspan><tspan font-size="10" dy="-12">i−1</tspan></text>

<rect x="818" y="1360" width="122" height="43" rx="6" fill="#8fd18a" stroke="#000" stroke-width="1.5"/>
<text x="879" y="1378" font-size="15" text-anchor="middle">Cross Concat</text>
<text x="879" y="1396" font-size="15" text-anchor="middle">Attention</text>
<line x1="942" y1="1385" x2="967" y2="1385" stroke="#000" stroke-width="1.5" marker-end="url(#ab)"/>
<text x="1010" y="1352" font-size="13" text-anchor="middle" font-weight="bold">Sequence Output</text>
<polygon points="970,1374 978,1366 1046,1366 1038,1374" fill="#f2f8ee" stroke="#666"/>
<polygon points="1038,1374 1046,1366 1046,1394 1038,1402" fill="#a9d18e" stroke="#666"/>
<rect x="970" y="1374" width="68" height="28" fill="#e2efda" stroke="#666"/>
<text x="994" y="1394" font-size="15" class="m">E<tspan font-size="10" dy="4">s</tspan><tspan font-size="10" dy="-12">i</tspan></text>

<g stroke="#666">
<polygon points="92,1501 98,1495 126,1495 120,1501" fill="#eef3fb"/><polygon points="120,1501 126,1495 126,1519 120,1525" fill="#b4c7e7"/><rect x="92" y="1501" width="28" height="24" fill="#dae3f3"/>
<polygon points="366,1501 372,1495 400,1495 394,1501" fill="#f2f8ee"/><polygon points="394,1501 400,1495 400,1519 394,1525" fill="#a9d18e"/><rect x="366" y="1501" width="28" height="24" fill="#e2efda"/>
<polygon points="662,1501 668,1495 696,1495 690,1501" fill="#fffaf0"/><polygon points="690,1501 696,1495 696,1519 690,1525" fill="#f4d27a"/><rect x="662" y="1501" width="28" height="24" fill="#fff2cc"/>
</g>
<g font-size="13" font-weight="bold">
<text x="136" y="1515">: Protein Text Module (PTM)</text>
<text x="410" y="1515">: Protein Sequence Module (PSM)</text>
<text x="707" y="1515">: Cross-Modality Interaction Module (CIM)</text>
</g>
<text x="484" y="1566" font-size="18" text-anchor="middle" font-weight="bold">Multi-modal Cross-attention Mechanism of Decoder</text>
</svg>
</body></html>
